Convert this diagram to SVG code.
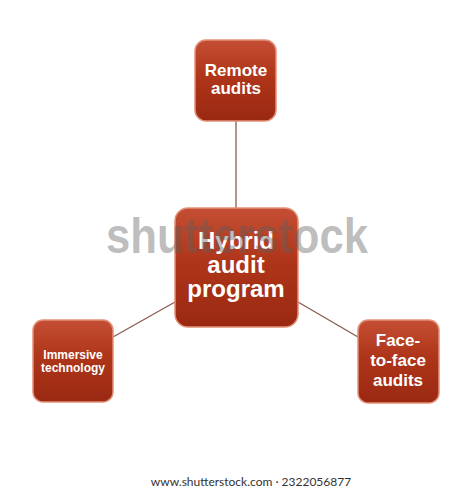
<svg xmlns="http://www.w3.org/2000/svg" width="474" height="489" viewBox="0 0 474 489">
<defs>
<linearGradient id="g" x1="0" y1="0" x2="0" y2="1">
<stop offset="0" stop-color="#c44e34"/>
<stop offset="0.45" stop-color="#ae3519"/>
<stop offset="1" stop-color="#9a2912"/>
</linearGradient>
</defs>
<style>
.box{fill:url(#g);stroke:#e3907a;stroke-width:1.5}
.t{fill:#fff;font-family:"Liberation Sans",Arial,sans-serif;font-weight:bold;text-anchor:middle}
.c{stroke:#8a5a50;stroke-width:1.3;fill:none}
</style>
<rect width="474" height="489" fill="#fff"/>
<g id="connectors">
<line class="c" x1="236" y1="121" x2="236" y2="208"/>
<line class="c" x1="113" y1="337" x2="175" y2="302"/>
<line class="c" x1="298" y1="302" x2="358" y2="337"/>
</g>
<g id="remote">
<rect class="box" x="195" y="40" width="81" height="81" rx="11"/>
<text class="t" font-size="17" x="236" y="76">Remote</text>
<text class="t" font-size="17" x="236" y="94">audits</text>
</g>
<g id="hybrid">
<rect class="box" x="175" y="208" width="123" height="119" rx="13"/>
<text class="t" font-size="24" x="236" y="249">Hybrid</text>
<text class="t" font-size="24" x="236" y="273">audit</text>
<text class="t" font-size="24" x="236" y="297">program</text>
</g>
<g id="immersive">
<rect class="box" x="33" y="320" width="80" height="82" rx="10"/>
<text class="t" font-size="12" x="73" y="359">Immersive</text>
<text class="t" font-size="12" x="73" y="372">technology</text>
</g>
<g id="facetoface">
<rect class="box" x="358" y="320" width="81" height="83" rx="10"/>
<text class="t" font-size="17" x="398" y="346">Face-</text>
<text class="t" font-size="17" x="398" y="366">to-face</text>
<text class="t" font-size="17" x="398" y="386">audits</text>
</g>
<text x="237" y="253" font-family="'Liberation Sans',Arial,sans-serif" font-weight="bold" font-size="50" text-anchor="middle" fill="#606060" fill-opacity="0.42" textLength="262" lengthAdjust="spacingAndGlyphs">shutterstock</text>
<text x="251" y="486" font-family="Lato,'Liberation Sans',sans-serif" font-size="12" text-anchor="middle" fill="#333">www.shutterstock.com · 2322056877</text>
</svg>
